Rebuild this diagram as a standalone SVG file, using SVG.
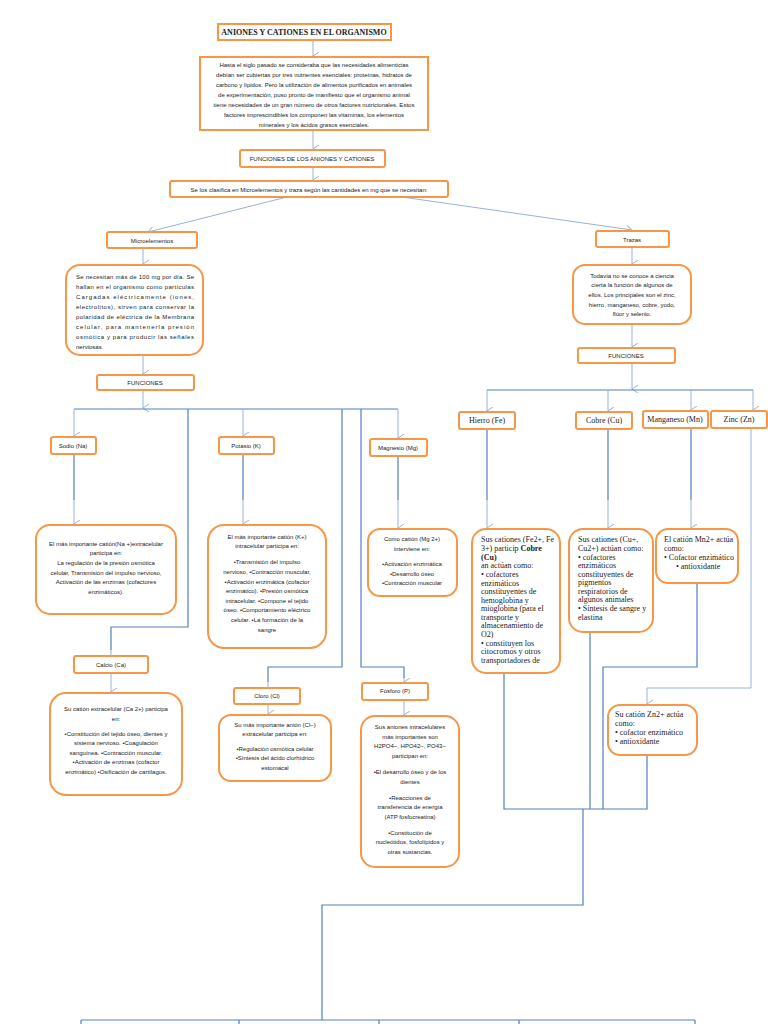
<svg xmlns="http://www.w3.org/2000/svg" width="768" height="1024" viewBox="0 0 768 1024">
<style>
.b{fill:#fff;stroke:#f79646;stroke-width:2}
.t{font-family:"Liberation Sans",Arial,sans-serif;font-size:6px;fill:#222;text-anchor:middle}
.l{text-anchor:start}
.s{font-family:"Liberation Serif","Times New Roman",serif;font-size:8px;fill:#222}
.c{fill:none;stroke:#4f81bd;stroke-width:1.2}
.a{fill:none;stroke:#95b3d7;stroke-width:1}
</style>
<defs><marker id="m" markerWidth="8" markerHeight="8" refX="4" refY="6" orient="auto" markerUnits="userSpaceOnUse"><path d="M0,0 L4,6 L8,0" fill="none" stroke="#95b3d7"/></marker>
<marker id="n" markerWidth="8" markerHeight="8" refX="6" refY="4" orient="auto" markerUnits="userSpaceOnUse"><path d="M0,0 L6,4 L0,8" fill="none" stroke="#95b3d7"/></marker></defs>
<rect width="768" height="1024" fill="#fff"/>
<g id="connectors">
<path class="a" d="M313,40V56" marker-end="url(#m)"/>
<path class="a" d="M313,130V149" marker-end="url(#m)"/>
<path class="a" d="M313,167V180" marker-end="url(#m)"/>
<path class="a" d="M287,197L148,232" marker-end="url(#n)"/>
<path class="a" d="M402,197L632,230" marker-end="url(#n)"/>
<path class="a" d="M143,248V264" marker-end="url(#m)"/>
<path class="a" d="M143,355V374" marker-end="url(#m)"/>
<path class="a" d="M143,390V408" marker-end="url(#m)"/>
<path class="c" d="M74,409H398M188,409V627H111V650M342,409V667H268V682M361,409V667H404V678"/>
<path class="a" d="M111,640V655M268,672V687M404,668V682" marker-end="url(#m)"/>
<path class="a" d="M74,409V436" marker-end="url(#m)"/>
<path class="a" d="M243,409V436" marker-end="url(#m)"/>
<path class="a" d="M398,409V438" marker-end="url(#m)"/>
<path class="c" d="M74,454V500M243,454V500M398,456V500"/>
<path class="a" d="M74,500V524" marker-end="url(#m)"/>
<path class="a" d="M243,500V524" marker-end="url(#m)"/>
<path class="a" d="M398,500V528" marker-end="url(#m)"/>
<path class="a" d="M111,673V692" marker-end="url(#m)"/>
<path class="a" d="M268,704V714" marker-end="url(#m)"/>
<path class="a" d="M404,700V715" marker-end="url(#m)"/>
<path class="a" d="M632,247V264" marker-end="url(#m)"/>
<path class="a" d="M632,324V347" marker-end="url(#m)"/>
<path class="a" d="M632,363V389" marker-end="url(#m)"/>
<path class="c" d="M487,390H753"/>
<path class="a" d="M487,390V411" marker-end="url(#m)"/>
<path class="a" d="M608,390V411" marker-end="url(#m)"/>
<path class="a" d="M691,390V410" marker-end="url(#m)"/>
<path class="a" d="M753,390V410" marker-end="url(#m)"/>
<path class="c" d="M487,429V500M608,429V500M691,428V500"/>
<path class="a" d="M487,500V528" marker-end="url(#m)"/>
<path class="a" d="M608,500V528" marker-end="url(#m)"/>
<path class="a" d="M691,500V528" marker-end="url(#m)"/>
<path class="a" d="M751,428V688H647V704" marker-end="url(#m)"/>
<path class="c" d="M504,673V809H647V755M590,632V809M697,583V667H603V809M583,809V905H322V1020M81,1020H695M81,1020V1024M239,1020V1024M379,1020V1024M519,1020V1024M695,1020V1024"/>
</g>
<g id="title"><rect class="b" x="218" y="24" width="173" height="16"/><text x="304" y="35" class="s" font-weight="bold" text-anchor="middle" font-size="7.5">ANIONES Y CATIONES EN EL ORGANISMO</text></g>
<g id="intro"><rect class="b" x="200" y="57" width="228" height="73"/>
<text class="t"><tspan x="314" y="67">Hasta el siglo pasado se consideraba que las necesidades alimenticias</tspan><tspan x="314" y="77">debían ser cubiertas por  tres nutrientes esenciales: proteínas, hidratos de</tspan><tspan x="314" y="87">carbono y lípidos. Pero la utilización de alimentos  purificados en animales</tspan><tspan x="314" y="97">de experimentación, puso pronto de manifiesto que el organismo animal</tspan><tspan x="314" y="107">tiene necesidades de un gran número de otros factores nutricionales. Estos</tspan><tspan x="314" y="117">factores imprescindibles los componen las vitaminas, los elementos</tspan><tspan x="314" y="127">minerales y los ácidos grasos esenciales.</tspan></text></g>
<g id="funciones0"><rect class="b" x="240" y="150" width="145" height="17" rx="2"/><text class="t" x="312" y="161">FUNCIONES DE LOS ANIONES Y CATIONES</text></g>
<g id="clasifica"><rect class="b" x="170" y="181" width="278" height="16" rx="2"/><text class="t" x="309" y="192">Se los clasifica en Microelementos y traza según las cantidades en mg que se necesitan:</text></g>
<g id="micro"><rect class="b" x="107" y="232" width="90" height="16" rx="2"/><text class="t" x="152" y="243">Microelementos</text></g>
<g id="trazas"><rect class="b" x="596" y="231" width="73" height="16" rx="2"/><text class="t" x="632" y="242">Trazas</text></g>
<g id="microtext"><rect class="b" x="66" y="265" width="137" height="90" rx="14"/>
<text class="t l"><tspan x="76" y="279" textLength="118" lengthAdjust="spacing">Se necesitan más de 100 mg por día. Se</tspan><tspan x="76" y="289" textLength="118" lengthAdjust="spacing">hallan en el organismo como partículas</tspan><tspan x="76" y="299" textLength="118" lengthAdjust="spacing">Cargadas eléctricamente (iones,</tspan><tspan x="76" y="309" textLength="118" lengthAdjust="spacing">electrolitos), sirven para conservar la</tspan><tspan x="76" y="319" textLength="118" lengthAdjust="spacing">polaridad de eléctrica de la Membrana</tspan><tspan x="76" y="329" textLength="118" lengthAdjust="spacing">celular, para mantenerla presión</tspan><tspan x="76" y="339" textLength="118" lengthAdjust="spacing">osmótica y para producir las señales</tspan><tspan x="76" y="349">nerviosas.</tspan></text></g>
<g id="funciones1"><rect class="b" x="97" y="375" width="97" height="15" rx="2"/><text class="t" x="145" y="385">FUNCIONES</text></g>
<g id="sodio"><rect class="b" x="51" y="437" width="45" height="17" rx="2"/><text class="t" x="73" y="448">Sodio (Na)</text></g>
<g id="sodiotext"><rect class="b" x="36" y="525" width="140" height="89" rx="14"/>
<text class="t"><tspan x="106" y="546">El más importante catión(Na +)extracelular</tspan><tspan x="106" y="555">participa en:</tspan><tspan x="106" y="565">La regulación de la presión osmótica</tspan><tspan x="106" y="575">celular, Transmisión del impulso nervioso,</tspan><tspan x="106" y="584">Activación de las enzimas (cofactores</tspan><tspan x="106" y="594">enzimáticos).</tspan></text></g>
<g id="potasio"><rect class="b" x="219" y="437" width="55" height="17" rx="2"/><text class="t" x="246" y="448">Potasio (K)</text></g>
<g id="potasiotext"><rect class="b" x="208" y="525" width="118" height="123" rx="16"/>
<text class="t"><tspan x="267" y="539">El más importante catión (K+)</tspan><tspan x="267" y="548">intracelular participa en:</tspan><tspan x="267" y="564">•Transmisión del impulso</tspan><tspan x="267" y="574">nervioso, •Contracción muscular,</tspan><tspan x="267" y="584">•Activación enzimática (cofactor</tspan><tspan x="267" y="593">enzimático). •Presión osmótica</tspan><tspan x="267" y="603">intracelular. •Compone el tejido</tspan><tspan x="267" y="612">óseo. •Comportamiento eléctrico</tspan><tspan x="267" y="622">celular. •La formación de la</tspan><tspan x="267" y="632">sangre</tspan></text></g>
<g id="magnesio"><rect class="b" x="370" y="439" width="57" height="17" rx="2"/><text class="t" x="398" y="450">Magnesio (Mg)</text></g>
<g id="magnesiotext"><rect class="b" x="368" y="529" width="89" height="67" rx="12"/>
<text class="t"><tspan x="412" y="541">Como catión (Mg 2+)</tspan><tspan x="412" y="551">interviene en:</tspan><tspan x="412" y="566">•Activación enzimática</tspan><tspan x="412" y="576">•Desarrollo óseo</tspan><tspan x="412" y="585">•Contracción muscular</tspan></text></g>
<g id="calcio"><rect class="b" x="74" y="656" width="74" height="17" rx="2"/><text class="t" x="111" y="667">Calcio (Ca)</text></g>
<g id="calciotext"><rect class="b" x="50" y="693" width="132" height="102" rx="16"/>
<text class="t"><tspan x="116" y="711">Su catión extracelular (Ca 2+) participa</tspan><tspan x="116" y="721">en:</tspan><tspan x="116" y="736">•Constitución del tejido óseo, dientes y</tspan><tspan x="116" y="745">sistema nervioso. •Coagulación</tspan><tspan x="116" y="755">sanguínea. •Contracción muscular.</tspan><tspan x="116" y="764">•Activación de enzimas (cofactor</tspan><tspan x="116" y="774">enzimático) •Osificación de cartílagos.</tspan></text></g>
<g id="cloro"><rect class="b" x="234" y="688" width="66" height="16" rx="2"/><text class="t" x="267" y="698">Cloro (Cl)</text></g>
<g id="clorotext"><rect class="b" x="219" y="715" width="112" height="66" rx="12"/>
<text class="t"><tspan x="275" y="727">Su más importante anión (Cl−)</tspan><tspan x="275" y="736">extracelular participa en:</tspan><tspan x="275" y="751">•Regulación osmótica celular</tspan><tspan x="275" y="760">•Síntesis del ácido clorhídrico</tspan><tspan x="275" y="770">estomacal</tspan></text></g>
<g id="fosforo"><rect class="b" x="362" y="683" width="66" height="17" rx="2"/><text class="t" x="395" y="693">Fósforo (P)</text></g>
<g id="fosforotext"><rect class="b" x="361" y="716" width="98" height="151" rx="14"/>
<text class="t"><tspan x="410" y="729">Sus aniones intracelulares</tspan><tspan x="410" y="739">más importantes son</tspan><tspan x="410" y="748">H2PO4−, HPO42−, PO43−</tspan><tspan x="410" y="758">participan en:</tspan><tspan x="410" y="774">•El desarrollo óseo y de los</tspan><tspan x="410" y="784">dientes</tspan><tspan x="410" y="800">•Reacciones de</tspan><tspan x="410" y="809">transferencia de energía</tspan><tspan x="410" y="819">(ATP fosfocreatina)</tspan><tspan x="410" y="835">•Constitución de</tspan><tspan x="410" y="844">nucleótidos, fosfolípidos y</tspan><tspan x="410" y="854">otras sustancias.</tspan></text></g>
<g id="trazastext"><rect class="b" x="573" y="265" width="118" height="59" rx="12"/>
<text class="t"><tspan x="632" y="278">Todavía no se conoce a ciencia</tspan><tspan x="632" y="287">cierta la función de algunos de</tspan><tspan x="632" y="297">ellos. Los principales son el zinc,</tspan><tspan x="632" y="307">hierro, manganeso, cobre, yodo,</tspan><tspan x="632" y="316">flúor y selenio.</tspan></text></g>
<g id="funciones2"><rect class="b" x="578" y="348" width="97" height="15" rx="2"/><text class="t" x="626" y="358">FUNCIONES</text></g>
<g id="hierro"><rect class="b" x="459" y="412" width="56" height="17" rx="2"/><text class="s" x="487" y="423" text-anchor="middle">Hierro (Fe)</text></g>
<g id="cobre"><rect class="b" x="576" y="412" width="56" height="17" rx="2"/><text class="s" x="604" y="423" text-anchor="middle">Cobre (Cu)</text></g>
<g id="manganeso"><rect class="b" x="643" y="411" width="65" height="17" rx="2"/><text class="s" x="675" y="422" text-anchor="middle">Manganeso (Mn)</text></g>
<g id="zinc"><rect class="b" x="711" y="411" width="56" height="17" rx="2"/><text class="s" x="739" y="422" text-anchor="middle">Zinc (Zn)</text></g>
<g id="hierrotext"><rect class="b" x="472" y="529" width="88" height="144" rx="14"/>
<text class="s"><tspan x="481" y="542">Sus cationes (Fe2+, Fe</tspan><tspan x="481" y="551">3+) particip <tspan font-weight="bold">Cobre</tspan></tspan><tspan x="481" y="560" font-weight="bold">(Cu)</tspan><tspan x="481" y="568">an actúan como:</tspan><tspan x="481" y="577">• cofactores</tspan><tspan x="481" y="586">enzimáticos</tspan><tspan x="481" y="594">constituyentes de</tspan><tspan x="481" y="603">hemoglobina y</tspan><tspan x="481" y="611">mioglobina (para el</tspan><tspan x="481" y="620">transporte y</tspan><tspan x="481" y="628">almacenamiento de</tspan><tspan x="481" y="637">O2)</tspan><tspan x="481" y="646">• constituyen los</tspan><tspan x="481" y="654">citocromos y otros</tspan><tspan x="481" y="663">transportadores de</tspan></text></g>
<g id="cobretext"><rect class="b" x="569" y="529" width="84" height="103" rx="14"/>
<text class="s"><tspan x="578" y="542">Sus cationes (Cu+,</tspan><tspan x="578" y="551">Cu2+) actúan como:</tspan><tspan x="578" y="560">• cofactores</tspan><tspan x="578" y="568">enzimáticos</tspan><tspan x="578" y="577">constituyentes de</tspan><tspan x="578" y="585">pigmentos</tspan><tspan x="578" y="594">respiratorios de</tspan><tspan x="578" y="602">algunos animales</tspan><tspan x="578" y="611">• Síntesis de sangre y</tspan><tspan x="578" y="620">elastina</tspan></text></g>
<g id="mntext"><rect class="b" x="656" y="529" width="82" height="54" rx="12"/>
<text class="s"><tspan x="664" y="542">El catión Mn2+ actúa</tspan><tspan x="664" y="551">como:</tspan><tspan x="664" y="560">• Cofactor enzimático</tspan><tspan x="676" y="569">• antioxidante</tspan></text></g>
<g id="zntext"><rect class="b" x="608" y="705" width="89" height="50" rx="12"/>
<text class="s"><tspan x="615" y="717">Su catión Zn2+ actúa</tspan><tspan x="615" y="726">como:</tspan><tspan x="615" y="735">• cofactor enzimático</tspan><tspan x="615" y="744">• antioxidante</tspan></text></g>
</svg>
